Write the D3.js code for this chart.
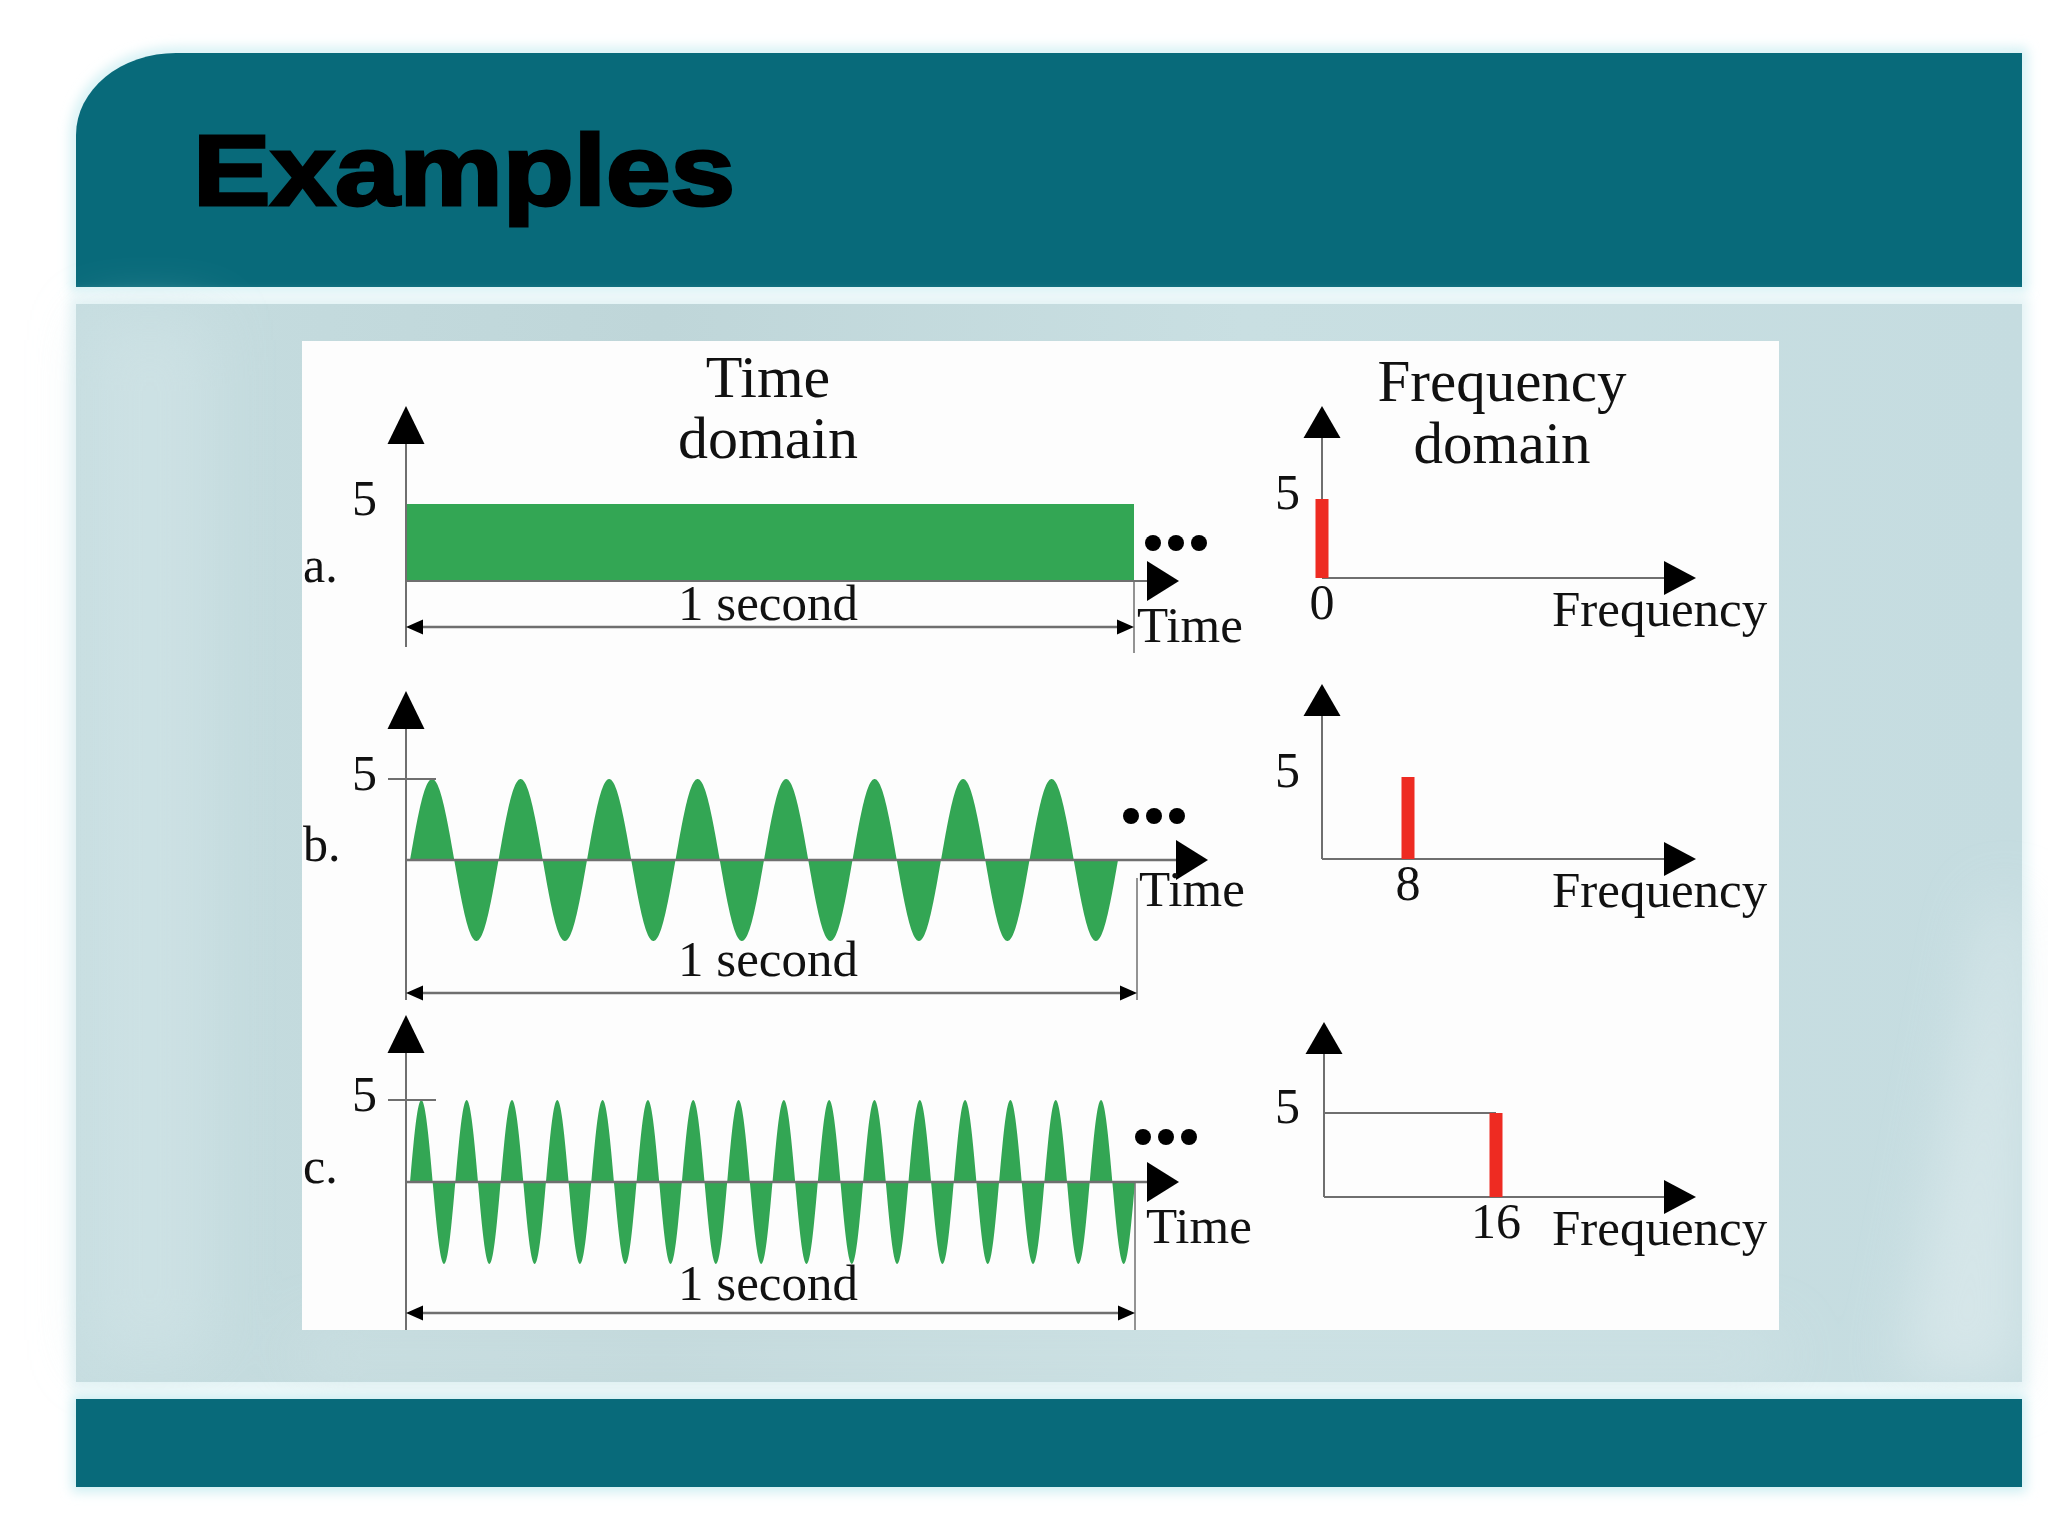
<!DOCTYPE html>
<html>
<head>
<meta charset="utf-8">
<script src="https://cdn.jsdelivr.net/npm/d3@7"></script>
<style>
  html, body { margin: 0; padding: 0; background: #ffffff; }
  svg { display: block; }
</style>
</head>
<body>
<div id="chart"></div>
<script>
'use strict';

// ---- data ----
var rowLabels = ['a.', 'b.', 'c.'];
var frequencies = [0, 8, 16];          // cycles per second
var amplitudes = [5, 5, 5];            // peak value
var peakTickLabel = '5';
var freqTickLabels = ['0', '8', '16'];
var timeTitle = ['Time', 'domain'];
var freqTitle = ['Frequency', 'domain'];
var spanLabel = '1 second';
var timeAxisLabel = 'Time';
var freqAxisLabel = 'Frequency';
var slideTitle = 'Examples';

var slide = {};
slide.width = 2048;
slide.height = 1536;
slide.green = '#33a654';
slide.red = '#ee2b22';
slide.teal = '#086a7a';
slide.axis = '#6f6f6f';
slide.serif = '"Liberation Serif", "Times New Roman", serif';
slide.originX = 406;

// per-row layout (pixel positions only)
slide.rows = [
    {zero: 581, amp: 77, tip: 406, axisEnd: 647, wave: [406, 1134], tickX: 1134, tickTop: 581, tickEnd: 653,
     arrow: 1147, dotsX: 1153, dotsY: 543, timeX: 1137, timeY: 642, secY: 620, dimY: 627,
     fZero: 578, fAmp: 79, fTip: 406, fAxisX: 1322, guide: false},
    {zero: 860, amp: 81, tip: 691, axisEnd: 1000, wave: [410, 1118], tickX: 1137, tickTop: 878, tickEnd: 1000,
     arrow: 1176, dotsX: 1131, dotsY: 816, timeX: 1139, timeY: 906, secY: 976, dimY: 993,
     fZero: 859, fAmp: 82, fTip: 684, fAxisX: 1322, guide: false},
    {zero: 1182, amp: 82, tip: 1015, axisEnd: 1330, wave: [410, 1135], tickX: 1135, tickTop: 1182, tickEnd: 1330,
     arrow: 1147, dotsX: 1143, dotsY: 1137, timeX: 1146, timeY: 1243, secY: 1300, dimY: 1313,
     fZero: 1197, fAmp: 84, fTip: 1022, fAxisX: 1324, guide: true}
];

slide.upArrow = function (g, x, tipY, w, h)
{
    g.append('path')
        .attr('d', 'M' + x + ',' + tipY + 'L' + (x - w / 2) + ',' + (tipY + h) + 'L' + (x + w / 2) + ',' + (tipY + h) + 'Z')
        .attr('fill', '#000');
}
slide.rightArrow = function (g, baseX, tipX, y, h)
{
    g.append('path')
        .attr('d', 'M' + tipX + ',' + y + 'L' + baseX + ',' + (y - h / 2) + 'L' + baseX + ',' + (y + h / 2) + 'Z')
        .attr('fill', '#000');
}
slide.line = function (g, x1, y1, x2, y2, w)
{
    g.append('line')
        .attr('x1', x1).attr('y1', y1).attr('x2', x2).attr('y2', y2)
        .attr('stroke', slide.axis)
        .attr('stroke-width', w || 2);
}
slide.text = function (g, str, x, y, size, anchor)
{
    return g.append('text')
        .attr('x', x).attr('y', y)
        .attr('font-family', slide.serif)
        .attr('font-size', size)
        .attr('text-anchor', anchor || 'start')
        .attr('fill', '#111')
        .text(str);
}

slide.drawBackground = function (svg)
{
    var defs = svg.append('defs');
    var blur = defs.append('filter').attr('id', 'soft').attr('x', '-20%').attr('y', '-20%').attr('width', '140%').attr('height', '140%');
    blur.append('feGaussianBlur').attr('stdDeviation', 6);
    var blur2 = defs.append('filter').attr('id', 'haze');
    blur2.append('feGaussianBlur').attr('stdDeviation', 30);

    var grad = defs.append('linearGradient').attr('id', 'band').attr('x1', 0).attr('x2', 1).attr('y1', 0).attr('y2', 0);
    grad.append('stop').attr('offset', '0%').attr('stop-color', '#c6dde0');
    grad.append('stop').attr('offset', '30%').attr('stop-color', '#bfd6d9');
    grad.append('stop').attr('offset', '60%').attr('stop-color', '#c9dfe2');
    grad.append('stop').attr('offset', '100%').attr('stop-color', '#c5dce0');

    svg.append('rect').attr('width', slide.width).attr('height', slide.height).attr('fill', '#ffffff');

    // header band with glow
    var header = 'M76,287 V135 A100,82 0 0 1 176,53 H2022 V287 Z';
    svg.append('path').attr('d', header).attr('fill', 'none')
        .attr('stroke', '#cdeef2').attr('stroke-width', 10).attr('filter', 'url(#soft)');
    svg.append('path').attr('d', header).attr('fill', slide.teal);

    // content band
    svg.append('rect').attr('x', 70).attr('y', 296).attr('width', 1958).attr('height', 1094)
        .attr('fill', '#e3f3f5').attr('filter', 'url(#soft)');
    svg.append('rect').attr('x', 76).attr('y', 304).attr('width', 1946).attr('height', 1078).attr('fill', 'url(#band)');
    var haze = svg.append('g').attr('filter', 'url(#haze)').attr('opacity', 0.55);
    haze.append('path').attr('d', 'M1900,1380 L1990,900 L2022,900 L2022,1380 Z').attr('fill', '#e4eff1');
    haze.append('rect').attr('x', 90).attr('y', 320).attr('width', 120).attr('height', 1040).attr('fill', '#d3e5e8');
    haze.append('rect').attr('x', 300).attr('y', 1335).attr('width', 1480).attr('height', 40).attr('fill', '#d6e6e8');

    // footer band
    svg.append('rect').attr('x', 72).attr('y', 1394).attr('width', 1954).attr('height', 98)
        .attr('fill', '#cdeef2').attr('filter', 'url(#soft)');
    svg.append('rect').attr('x', 76).attr('y', 1399).attr('width', 1946).attr('height', 88).attr('fill', slide.teal);

    // title
    svg.append('text')
        .attr('x', 193).attr('y', 205)
        .attr('font-family', '"Liberation Sans", Arial, sans-serif')
        .attr('font-weight', 'bold')
        .attr('font-size', 100)
        .attr('textLength', 542)
        .attr('lengthAdjust', 'spacingAndGlyphs')
        .attr('stroke', '#000').attr('stroke-width', 3)
        .attr('fill', '#000')
        .text(slideTitle);

    // white figure panel
    svg.append('rect').attr('x', 302).attr('y', 341).attr('width', 1477).attr('height', 989).attr('fill', '#fdfdfd');
}

slide.drawTitles = function (g)
{
    slide.text(g, timeTitle[0], 768, 397, 60, 'middle');
    slide.text(g, timeTitle[1], 768, 458, 60, 'middle');
    slide.text(g, freqTitle[0], 1502, 401, 59, 'middle');
    slide.text(g, freqTitle[1], 1502, 463, 59, 'middle');
}

slide.drawTimePanel = function (g, i)
{
    var L = slide.rows[i];
    var f = frequencies[i];
    var A = amplitudes[i];
    var x = d3.scaleLinear().domain([0, 1]).range(L.wave);
    var y = d3.scaleLinear().domain([-5, 5]).range([L.zero + L.amp, L.zero - L.amp]);

    var samples = d3.range(0, 1.00001, 1 / 1200).map(function (t) {
        return {t: t, v: f === 0 ? A : A * Math.sin(2 * Math.PI * f * t)};
    });
    var area = d3.area()
        .x(function (d) { return x(d.t); })
        .y0(y(0))
        .y1(function (d) { return y(d.v); });

    g.append('path').datum(samples).attr('d', area).attr('fill', slide.green);

    // peak tick
    if (f !== 0) {
        slide.line(g, 388, y(A), 436, y(A), 2);
    }

    // y axis
    slide.line(g, slide.originX, L.tip + 30, slide.originX, L.axisEnd, 2);
    slide.upArrow(g, slide.originX, L.tip, 37, 38);

    // time axis
    slide.line(g, slide.originX, y(0), L.arrow + 2, y(0), f === 0 ? 2 : 2.5);
    slide.rightArrow(g, L.arrow, L.arrow + 32, y(0), 40);

    // end-of-second marker
    slide.line(g, L.tickX, L.tickTop, L.tickX, L.tickEnd, 1.5);

    // dimension line
    slide.line(g, slide.originX + 4, L.dimY, L.tickX - 4, L.dimY, 2.5);
    slide.rightArrow(g, L.tickX - 17, L.tickX, L.dimY, 15);
    slide.rightArrow(g, slide.originX + 17, slide.originX, L.dimY, 15);

    // continuation dots
    g.selectAll(null).data([0, 1, 2]).enter().append('circle')
        .attr('cx', function (d) { return L.dotsX + d * 23; })
        .attr('cy', L.dotsY)
        .attr('r', 8)
        .attr('fill', '#000');

    slide.text(g, peakTickLabel, 377, y(A) + 11, 50, 'end');
    slide.text(g, rowLabels[i], 303, L.zero + 1, 50, 'start');
    slide.text(g, spanLabel, 768, L.secY, 51, 'middle');
    slide.text(g, timeAxisLabel, L.timeX, L.timeY, 51, 'start');
}

slide.drawFreqPanel = function (g, i)
{
    var L = slide.rows[i];
    var f = frequencies[i];
    var A = amplitudes[i];
    var x = d3.scaleLinear().domain([0, 16]).range([L.fAxisX, L.fAxisX + 172]);
    var y = d3.scaleLinear().domain([0, 5]).range([L.fZero, L.fZero - L.fAmp]);

    if (L.guide) {
        slide.line(g, L.fAxisX, y(A), x(f), y(A), 2);
    }

    // axes
    slide.line(g, L.fAxisX, L.fTip + 28, L.fAxisX, L.fZero, 2);
    slide.upArrow(g, L.fAxisX, L.fTip, 37, 32);
    slide.line(g, L.fAxisX, L.fZero, 1666, L.fZero, 2);
    slide.rightArrow(g, 1664, 1696, L.fZero, 34);

    // spectral line
    g.selectAll(null).data([{f: f, a: A}]).enter().append('rect')
        .attr('x', function (d) { return x(d.f) - 6.5; })
        .attr('y', function (d) { return y(d.a); })
        .attr('width', 13)
        .attr('height', function (d) { return y(0) - y(d.a); })
        .attr('fill', slide.red);

    slide.text(g, peakTickLabel, 1300, y(A) + 10, 50, 'end');
    slide.text(g, freqTickLabels[i], x(f), L.fZero + 41, 50, 'middle');
    slide.text(g, freqAxisLabel, 1552, L.fZero + 48, 51, 'start');
}

function examples(div)
{
    var svg = d3.select(div).append('svg')
        .attr('width', slide.width)
        .attr('height', slide.height);
    slide.drawBackground(svg);
    var g = svg.append('g').attr('class', 'figure');
    slide.drawTitles(g);
    for (var i = 0; i < rowLabels.length; i++) {
        slide.drawTimePanel(g, i);
        slide.drawFreqPanel(g, i);
    }
}

examples('#chart');
</script>
</body>
</html>
